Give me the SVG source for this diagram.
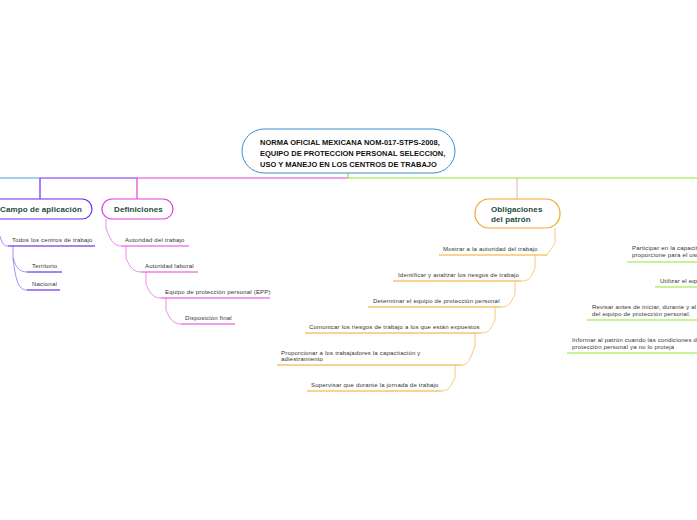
<svg xmlns="http://www.w3.org/2000/svg" width="697" height="520" viewBox="0 0 697 520">
<style>
text{font-family:"Liberation Sans",Arial,sans-serif;fill:#333;font-size:6px;letter-spacing:0.2px}
.t{font-weight:bold;font-size:7.5px;fill:#111;letter-spacing:0}
.h{font-weight:bold;font-size:8px;fill:#1f4a3a;letter-spacing:0.1px}
.c{fill:none}
.p{stroke:#6a2cf0}.m{stroke:#e23ee0}.o{stroke:#f5a52a}.g{stroke:#8ee82a}
</style>
<rect width="697" height="520" fill="#fff"/>
<g id="connectors" class="c" fill="none">
<path d="M0 178H40" stroke="#4aa0e8" stroke-width="1.2"/>
<path d="M40 178H137" class="p" stroke-width="1.2"/>
<path d="M137 178H348" class="m" stroke-width="1.2"/>
<path d="M348 178H697" class="g" stroke-width="1.2"/>
<path d="M348 173V178" class="g" stroke-width="1.2"/>
<path d="M40 178V199" class="p" stroke-width="1.2"/>
<path d="M137 178V199" class="m" stroke-width="1.2"/>
<path d="M517 178V199" stroke="#e8b0a0" stroke-width="1"/>
<g class="p" stroke-width="1.2" opacity="0.9">
<path d="M0 236C2 244 4 246 8 246H95" stroke-width="0.6"/>
<path d="M8 246H95"/>
<path d="M13 246V258C16 268 20 272 27 272H62M13 258C16 285 20 290 27 290H60" stroke-width="0.6"/>
<path d="M27 272H62M27 290H60"/>
</g>
<g class="m" stroke-width="1.2">
<path d="M106 219V228C110 240 114 246 121 246" stroke-width="0.6"/>
<path d="M121 246H189"/>
<path d="M126 246V258C130 268 134 272 141 272" stroke-width="0.6"/>
<path d="M141 272H198"/>
<path d="M146 272V284C150 294 154 298 161 298" stroke-width="0.6"/>
<path d="M161 298H270"/>
<path d="M166 298V310C170 320 174 324 181 324" stroke-width="0.6"/>
<path d="M181 324H235"/>
</g>
<g class="o" stroke-width="1.2">
<path d="M555 228V243L547 255" stroke-width="0.6"/>
<path d="M439 255H547"/>
<path d="M535 255V268C530 280 528 281 521 281" stroke-width="0.6"/>
<path d="M393 281H521"/>
<path d="M515 281V294C510 305 508 307 501 307" stroke-width="0.6"/>
<path d="M368 307H501"/>
<path d="M495 307V320C490 331 488 333 481 333" stroke-width="0.6"/>
<path d="M305 333H481"/>
<path d="M475 333V346C470 360 468 365 461 365" stroke-width="0.6"/>
<path d="M277 365H461"/>
<path d="M455 365V378C450 388 448 391 441 391" stroke-width="0.6"/>
<path d="M307 391H441"/>
</g>
<g class="g" stroke-width="1.2">
<path d="M627 262H697"/>
<path d="M655 287H697"/>
<path d="M587 320H697"/>
<path d="M567 353H697"/>
</g>
</g>
<g id="root">
<rect x="242" y="129" width="213" height="44" rx="22" fill="#fff" stroke="#3a8fd0" stroke-width="1"/>
<text class="t" x="260" y="145">NORMA OFICIAL MEXICANA NOM-017-STPS-2008,</text>
<text class="t" x="260" y="156">EQUIPO DE PROTECCION PERSONAL SELECCION,</text>
<text class="t" x="260" y="167">USO Y MANEJO EN LOS CENTROS DE TRABAJO</text>
</g>
<g id="campo">
<rect x="-12" y="199" width="104" height="20" rx="10" fill="#fff" stroke="#6a2cf0" stroke-width="1.2"/>
<text class="h" x="0" y="212">Campo de aplicación</text>
</g>
<g id="definiciones">
<rect x="102" y="199" width="71" height="20" rx="10" fill="#fff" stroke="#e23ee0" stroke-width="1.2"/>
<text class="h" x="114" y="212">Definiciones</text>
</g>
<g id="obligaciones">
<rect x="475" y="199" width="85" height="29" rx="14" fill="#fff" stroke="#f5a52a" stroke-width="1.2"/>
<text class="h" x="491" y="212">Obligaciones</text>
<text class="h" x="491" y="222">del patrón</text>
</g>
<g id="campo-items">
<text x="12" y="242">Todos los centros de trabajo</text>
<text x="32" y="268">Territorio</text>
<text x="32" y="286">Nacional</text>
</g>
<g id="def-items">
<text x="125" y="242">Autoridad del trabajo</text>
<text x="145" y="268">Autoridad laboral</text>
<text x="165" y="294">Equipo de protección personal (EPP)</text>
<text x="185" y="320">Disposición final</text>
</g>
<g id="obl-items">
<text x="443" y="251">Mostrar a la autoridad del trabajo</text>
<text x="398" y="277">Identificar y analizar los riesgos de trabajo</text>
<text x="373" y="303">Determinar el equipo de protección personal</text>
<text x="309" y="329">Comunicar  los riesgos de trabajo a los que están expuestos</text>
<text x="281" y="355">Proporcionar a los trabajadores la capacitación y</text>
<text x="281" y="361">adiestramiento</text>
<text x="311" y="387">Supervisar que durante la jornada de trabajo</text>
</g>
<g id="trab-items">
<text x="632" y="250">Participar en la capacitación y adiestramiento que el patrón</text>
<text x="632" y="257">proporcione para el uso</text>
<text x="660" y="283">Utilizar el equipo</text>
<text x="592" y="309">Revisar antes de iniciar, durante y al finalizar el uso</text>
<text x="592" y="316">del equipo de  protección personal.</text>
<text x="572" y="342">Informar al patrón cuando las condiciones del equipo de</text>
<text x="572" y="349">protección personal ya no lo proteja</text>
</g>
</svg>
